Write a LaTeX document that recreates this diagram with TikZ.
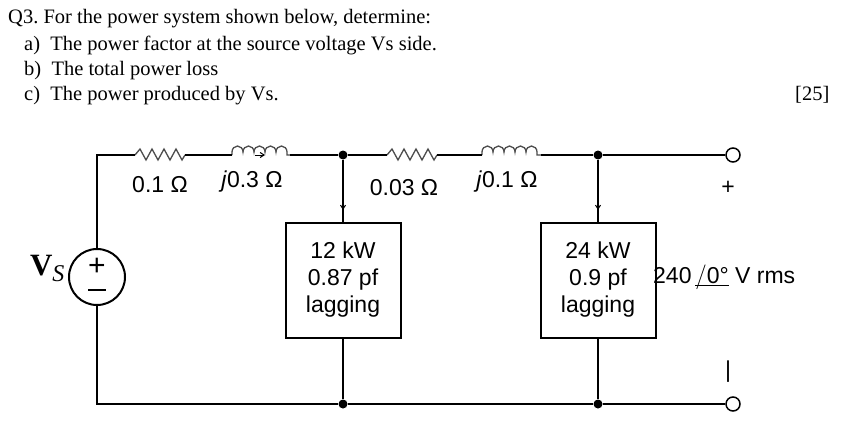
\documentclass[tikz,border=0pt]{standalone}
\usepackage{fontspec}
\setmainfont{Liberation Serif}
\newfontfamily\ckt{Liberation Sans}
\usetikzlibrary{arrows.meta}
\begin{document}
\begin{tikzpicture}[x=1pt,y=-1pt,
  wire/.style={line width=2pt},
  part/.style={line width=1.3pt,gray!60!black},
  hd/.style={anchor=base west,inner sep=0pt,font=\fontsize{20.5}{22}\selectfont},
  lab/.style={inner sep=0pt,font=\ckt\fontsize{23}{25}\selectfont},
  load/.style={draw,line width=2pt,minimum width=115pt,minimum height=115pt,align=center,font=\ckt\fontsize{23}{27}\selectfont,inner sep=2pt},
  dot/.style={circle,fill,inner sep=0pt,minimum size=9pt},
  term/.style={circle,draw,line width=1.5pt,fill=white,inner sep=0pt,minimum size=14pt}]
\useasboundingbox (0,0) rectangle (842,428);
% header
\node[hd] (h0) at (8,24) {Q3.\ For the power system shown below, determine:};
\node[hd] (h1) at (24,50) {a)\ \ The power factor at the source voltage Vs side.};
\node[hd] (h2) at (24,75) {b)\ \ The total power loss};
\node[hd] (h3) at (24,100) {c)\ \ The power produced by Vs.};
\node[hd] (h4) at (795,100) {[25]};
% nodes
\coordinate (tl) at (97,155);
\coordinate (bl) at (97,404);
\node[dot] (n1) at (343,155) {};
\node[dot] (n2) at (598,155) {};
\node[dot] (b1) at (343,404) {};
\node[dot] (b2) at (598,404) {};
\node[term] (tp) at (733,155) {};
\node[term] (tm) at (733,404) {};
\node[circle,draw,line width=2pt,minimum size=56pt,inner sep=0pt] (vs) at (97,277) {};
\node[font=\ckt\fontsize{30}{30}\selectfont,inner sep=0pt] (plus) at (97,267) {+};
\draw[line width=1.3pt] (88,290) -- (106,290);
\node[load] (L1) at (343,280) {12 kW\\0.87 pf\\lagging};
\node[load] (L2) at (598,280) {24 kW\\0.9 pf\\lagging};
% resistors / inductors
\coordinate (r1a) at (135,155); \coordinate (r1b) at (185,155);
\coordinate (i1a) at (232,155); \coordinate (i1b) at (290,155);
\coordinate (r2a) at (387,155); \coordinate (r2b) at (437,155);
\coordinate (i2a) at (482,155); \coordinate (i2b) at (541,155);
\draw[part] (r1a) -- ++(5,-6) -- ++(6,11) -- ++(6,-11) -- ++(6,11) -- ++(6,-11) -- ++(6,11) -- ++(6,-11) -- ++(6,11) -- (r1b);
\draw[part] (r2a) -- ++(5,-6) -- ++(6,11) -- ++(6,-11) -- ++(6,11) -- ++(6,-11) -- ++(6,11) -- ++(6,-11) -- ++(6,11) -- (r2b);
\draw[part] (i1a) -- ++(0,-3) arc(180:360:5.5 and 6) arc(180:360:5.5 and 6) arc(180:360:5.5 and 6) arc(180:360:5.5 and 6) arc(180:360:5.5 and 6) -- ++(0,3) -- (i1b);
\draw[part] (i2a) -- ++(0,-3) arc(180:360:5.5 and 6) arc(180:360:5.5 and 6) arc(180:360:5.5 and 6) arc(180:360:5.5 and 6) arc(180:360:5.5 and 6) -- ++(0,3) -- (i2b);
% wires
\draw[wire] (vs.north) -- (tl) -- (r1a);
\draw[wire] (r1b) -- (i1a);
\draw[wire] (i1b) -- (n1) -- (r2a);
\draw[wire] (r2b) -- (i2a);
\draw[wire] (i2b) -- (n2) -- (tp);
\draw[wire] (vs.south) -- (bl) -- (b1) -- (b2) -- (tm);
\draw[wire] (n1) -- (L1.north); \draw[wire] (L1.south) -- (b1);
\draw[wire] (n2) -- (L2.north); \draw[wire] (L2.south) -- (b2);
% small current arrows
\draw[line width=1pt,-{Straight Barb[length=4pt,width=5pt]}] (255,155) -- (265,155);
\draw[line width=1pt,-{Straight Barb[length=4pt,width=5pt]}] (343,200) -- (343,210);
\draw[line width=1pt,-{Straight Barb[length=4pt,width=5pt]}] (598,200) -- (598,210);
% labels
\node[lab] (l1) at (160,185) {0.1 Ω};
\node[lab] (l2) at (252,182) {\textit{j}0.3 Ω};
\node[lab] (l3) at (404,188) {0.03 Ω};
\node[lab] (l4) at (507,182) {\textit{j}0.1 Ω};
\node[lab] (pl) at (728,188) {+};
\node[lab] (mi) at (728,372) {|};
\node[anchor=east,font=\fontsize{31}{31}\selectfont\bfseries] (vl) at (68,268) {V\textmd{\textit{\fontsize{24}{24}\selectfont\raisebox{-6pt}{S}}}};
\node[lab,anchor=west] (vr) at (653,277) {240\,\underline{\smash{\big/}0\textdegree}\ V rms};
\end{tikzpicture}
\end{document}
